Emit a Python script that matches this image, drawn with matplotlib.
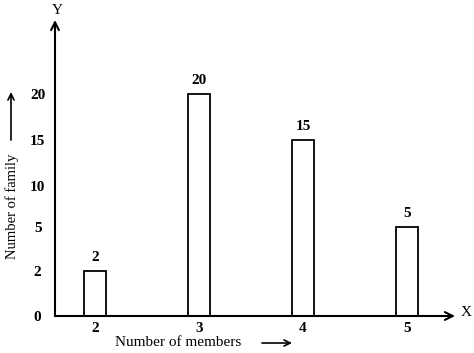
import numpy as np
import matplotlib.pyplot as plt

members = [2, 3, 4, 5]
families = [2, 20, 15, 5]
y_ticks = [0, 2, 5, 10, 15, 20]
marked_ticks = [5, 10, 15, 20]

# the textbook y-axis is not linear: where each value sits (px above the x-axis)
scale_vals = [0, 2, 5, 10, 15, 20, 40]
scale_pos = [0, 45, 89, 130, 176, 222, 406]


def fwd(v):
    return np.interp(v, scale_vals, scale_pos)


def inv(p):
    return np.interp(p, scale_pos, scale_vals)


plt.rcParams['font.family'] = ['Liberation Serif', 'DejaVu Serif']
plt.rcParams['font.size'] = 11

W, H = 474, 353
fig = plt.figure(figsize=(W / 100, H / 100), dpi=100)
ax = fig.add_axes([55 / W, 1 - 316 / H, 400 / W, 296 / H])
ax.set_yscale('function', functions=(fwd, inv))
ax.set_xlim(2 - 40 / 104, 2 + 360 / 104)
ax.set_ylim(0, float(inv(296)))

ax.bar(members, families, width=0.21, color='white', edgecolor='black', linewidth=1.3)
for m, f in zip(members, families):
    ax.annotate(str(f), (m, f), xytext=(0, 5), textcoords='offset points',
                ha='center', va='bottom', fontweight='bold')

# axes drawn as arrows
for s in ax.spines.values():
    s.set_visible(False)
arrow = dict(arrowstyle='->', lw=1.5, color='black', shrinkA=0, shrinkB=0, mutation_scale=14)
ax.annotate('', xy=(1, 0), xytext=(0, 0), xycoords='axes fraction', arrowprops=arrow)
ax.annotate('', xy=(0, 1), xytext=(0, 0), xycoords='axes fraction', arrowprops=arrow)

ax.set_xticks(members)
ax.set_xticklabels([str(m) for m in members], fontweight='bold')
ax.tick_params(axis='x', length=0, pad=4)
ax.set_yticks(y_ticks)
ax.set_yticklabels([str(t) for t in y_ticks], fontweight='bold', ha='center')
ax.set_yticks(marked_ticks, minor=True)
ax.yaxis.set_minor_formatter(plt.NullFormatter())
ax.tick_params(axis='y', which='major', length=0, pad=12.5)
ax.tick_params(axis='y', which='minor', length=9, width=1.3, direction='inout')

fig.text(57 / W, 1 - 10 / H, 'Y', ha='center', va='center')
fig.text(466 / W, 1 - 313 / H, 'X', ha='center', va='center')

fig.text(115 / W, 1 - 343 / H, 'Number of members', va='center')
ax.annotate('', xy=(292 / W, 1 - 343 / H), xytext=(262 / W, 1 - 343 / H),
            xycoords='figure fraction',
            arrowprops=dict(arrowstyle='->', lw=1.2, color='black', shrinkA=0, shrinkB=0))
fig.text(12 / W, 1 - 206 / H, 'Number of family', rotation=90, ha='center', va='center',
         fontsize=10.5)
ax.annotate('', xy=(11 / W, 1 - 92 / H), xytext=(11 / W, 1 - 140 / H),
            xycoords='figure fraction',
            arrowprops=dict(arrowstyle='->', lw=1.2, color='black', shrinkA=0, shrinkB=0))

fig.savefig('out.png', dpi=100)
